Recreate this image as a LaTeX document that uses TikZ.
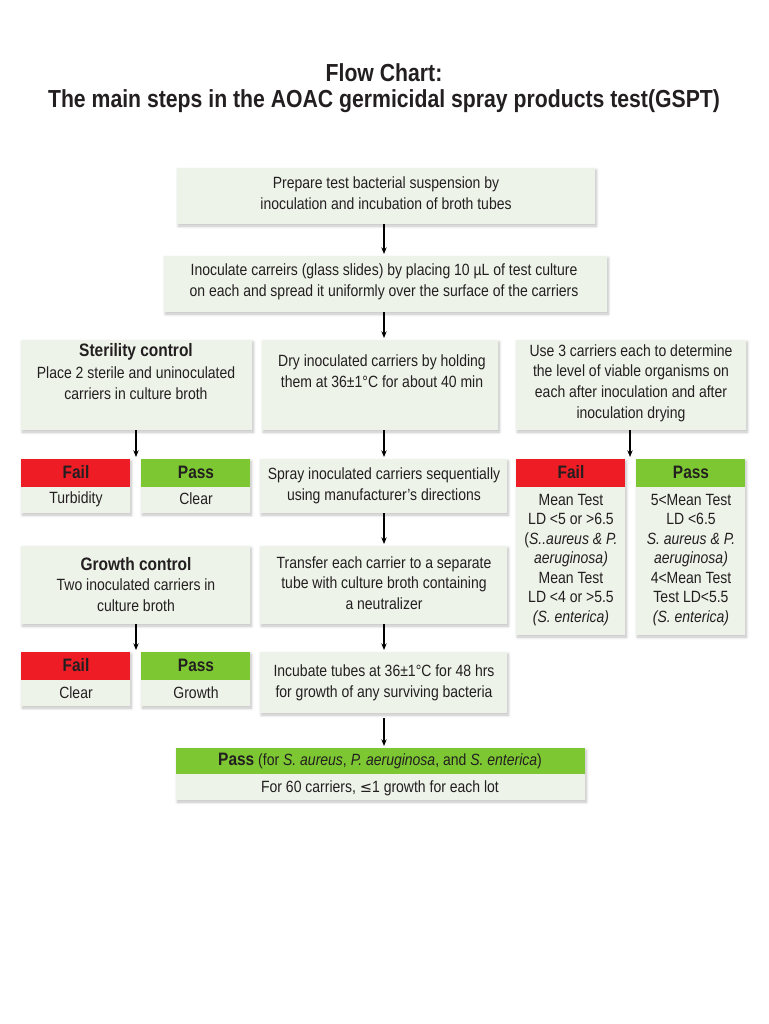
\documentclass[tikz,border=0pt]{standalone}
\usepackage{fontspec}
\setmainfont{Liberation Sans}[FakeStretch=0.86]
\usetikzlibrary{shadows.blur,arrows.meta}
\definecolor{bx}{HTML}{EEF3EA}
\definecolor{rd}{HTML}{EE1C25}
\definecolor{gr}{HTML}{7DC832}
\definecolor{tx}{HTML}{231F20}
\begin{document}
\begin{tikzpicture}[x=0.75pt,y=-0.75pt,text=tx,
  box/.style={fill=bx,blur shadow={shadow blur steps=6,shadow xshift=1pt,shadow yshift=-1.5pt,shadow opacity=25}},
  txt/.style={align=center,font=\fontsize{12.2}{15.6}\selectfont,inner sep=0pt},
  hd/.style={align=center,font=\fontsize{13.5}{15}\selectfont\bfseries,inner sep=0pt},
  arr/.style={-{Stealth[length=5pt,width=4pt]},line width=0.8pt}]
\useasboundingbox (0,0) rectangle (768,1024);
\node[font=\fontsize{18.5}{19.5}\selectfont\bfseries,align=center] (t) at (384,88) {Flow Chart:\\The main steps in the AOAC germicidal spray products test(GSPT)};
\newcommand\bx[5]{\fill[box] (#1,#2) rectangle (#3,#4); \coordinate (#5t) at ({(#1+#3)/2},#2); \coordinate (#5b) at ({(#1+#3)/2},#4);}
\newcommand\pf[6]{\fill[box] (#1,#2) rectangle (#3,#5); \fill[#6] (#1,#2) rectangle (#3,#4);}
\bx{177}{168}{595}{224}{b1}
\node[txt] at (386,193) {Prepare test bacterial suspension by\\inoculation and incubation of broth tubes};
\bx{164}{256}{607}{312}{b2}
\node[txt] at (384,282) {Inoculate carreirs (glass slides) by placing 10 µL of test culture\\on each and spread it uniformly over the surface of the carriers};
\bx{21}{340}{252}{430}{st}
\node[hd] at (136,352) {Sterility control};
\node[txt] at (136,383) {Place 2 sterile and uninoculated\\carriers in culture broth};
\bx{262}{340}{498}{430}{dr}
\node[txt] at (382,371) {Dry inoculated carriers by holding\\them at 36±1°C for about 40 min};
\bx{516}{340}{746}{430}{u3}
\node[txt] at (631,383) {Use 3 carriers each to determine\\the level of viable organisms on\\each after inoculation and after\\inoculation drying};
\pf{21}{459}{130}{487}{513}{rd}\node[hd] at (76,472) {Fail};\node[txt] at (76,499) {Turbidity};
\pf{141}{459}{250}{487}{513}{gr}\node[hd] at (196,472) {Pass};\node[txt] at (196,499) {Clear};
\bx{260}{459}{507}{513}{sp}
\node[txt] at (384,486) {Spray inoculated carriers sequentially\\using manufacturer's directions};
\pf{516}{459}{625}{487}{635}{rd}\node[hd] at (571,472) {Fail};
\node[txt,font=\fontsize{12.2}{14.6}\selectfont] at (571,560) {Mean Test\\LD <5 or >6.5\\(\textit{S..aureus \& P.}\\\textit{aeruginosa)}\\Mean Test\\LD <4 or >5.5\\\textit{(S. enterica)}};
\pf{636}{459}{745}{487}{635}{gr}\node[hd] at (691,472) {Pass};
\node[txt,font=\fontsize{12.2}{14.6}\selectfont] at (691,560) {5<Mean Test\\LD <6.5\\\textit{S. aureus \& P.}\\\textit{aeruginosa)}\\4<Mean Test\\Test LD<5.5\\\textit{(S. enterica)}};
\bx{21}{546}{250}{624}{gc}
\node[hd] at (136,564) {Growth control};
\node[txt] at (136,595) {Two inoculated carriers in\\culture broth};
\bx{260}{546}{507}{624}{tr}
\node[txt] at (384,583) {Transfer each carrier to a separate\\tube with culture broth containing\\a neutralizer};
\pf{21}{652}{130}{680}{706}{rd}\node[hd] at (76,665) {Fail};\node[txt] at (76,693) {Clear};
\pf{141}{652}{250}{680}{706}{gr}\node[hd] at (196,665) {Pass};\node[txt] at (196,693) {Growth};
\bx{260}{652}{507}{713}{ic}
\node[txt] at (384,683) {Incubate tubes at 36±1°C for 48 hrs\\for growth of any surviving bacteria};
\pf{176}{748}{585}{774}{800}{gr}
\node[txt] at (380,761) {\textbf{\fontsize{13.5}{15}\selectfont Pass} (for \textit{S. aureus}, \textit{P. aeruginosa}, and \textit{S. enterica})};
\node[txt] at (380,788) {For 60 carriers, \fontspec{DejaVu Sans}[Scale=0.9]≤\fontspec{Liberation Sans}[FakeStretch=0.86] 1 growth for each lot};
\draw[arr] (384,224) -- (384,254);
\draw[arr] (384,312) -- (384,338);
\draw[arr] (384,430) -- (384,457);
\draw[arr] (384,513) -- (384,544);
\draw[arr] (384,624) -- (384,650);
\draw[arr] (384,718) -- (384,746);
\draw[arr] (136,430) -- (136,457);
\draw[arr] (630,430) -- (630,457);
\draw[arr] (136,624) -- (136,650);
\end{tikzpicture}
\end{document}
